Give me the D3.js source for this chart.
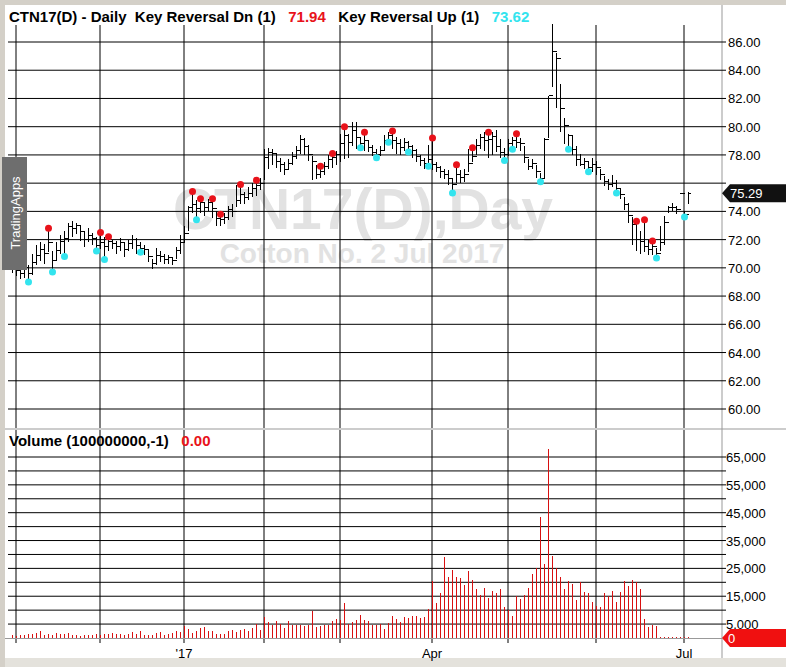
<!DOCTYPE html>
<html><head><meta charset="utf-8">
<script src="https://cdn.jsdelivr.net/npm/d3@7"></script>
<style>body{margin:0;background:#fff}svg{display:block;font-family:Arial,"Liberation Sans",sans-serif}text{white-space:pre}</style>
</head><body><svg id="c" width="786" height="667"></svg>
<script>
// daily bars, Oct 31 2016 .. Jul 5 2017 (one per trading day)
const hi = [70.5,70.3,70.1,70.4,70.2,71.0,71.6,71.8,71.7,72.8,71.2,71.8,72.3,72.6,73.2,73.3,73.2,73.0,72.6,72.8,
  72.5,72.2,72.5,72.2,72.2,72.0,71.9,72.1,71.8,72.0,72.3,72.1,71.8,71.6,71.3,70.6,71.4,71.2,71.0,70.9,
  70.8,71.5,72.3,73.0,74.4,75.4,74.8,74.9,74.7,74.9,74.9,74.0,73.8,73.9,74.4,74.5,75.9,75.9,75.4,75.7,
  76.0,76.2,76.4,78.4,78.5,78.4,78.1,77.8,77.5,77.7,78.2,78.6,79.4,79.2,78.7,77.9,77.3,77.2,77.5,78.0,
  78.1,78.3,79.5,80.0,79.5,80.3,80.3,79.3,79.6,79.0,78.7,78.4,78.6,79.4,79.6,79.7,79.3,79.1,79.2,79.0,
  78.7,78.4,78.0,77.8,78.7,79.2,77.5,77.2,77.0,76.9,76.4,77.3,76.9,77.0,78.4,78.5,79.1,79.5,79.6,79.6,
  79.6,79.8,79.1,78.5,79.1,79.3,79.5,79.2,78.6,77.7,77.7,77.3,76.7,79.2,82.2,87.3,85.2,83.0,80.6,79.5,
  79.4,78.6,78.1,77.8,77.5,77.8,77.6,77.0,76.5,76.3,76.6,76.2,75.6,75.0,74.6,73.6,73.3,72.6,73.4,72.0,
  71.9,71.4,73.0,73.7,74.4,74.6,74.4,75.3,74.0,75.4];
const lo = [69.6,69.4,69.2,69.3,69.0,69.5,70.2,70.5,70.3,71.1,69.7,70.5,71.0,70.8,71.8,72.2,72.4,71.9,71.5,71.8,
  71.6,71.2,71.3,70.6,71.2,71.3,71.0,71.2,70.8,71.2,71.3,71.0,71.1,70.9,70.4,69.9,70.2,70.4,70.3,70.3,
  70.2,70.6,71.0,71.8,72.6,73.9,73.4,73.9,73.7,74.0,73.5,73.0,73.0,73.1,73.4,73.6,74.3,74.5,74.5,74.8,
  75.0,75.1,75.5,76.2,77.0,77.3,77.1,76.8,76.6,77.0,77.3,77.7,78.1,78.0,77.6,76.2,76.3,76.4,76.6,77.0,
  77.1,77.3,77.5,77.7,77.8,78.6,78.4,78.5,78.3,78.2,77.9,77.8,77.9,78.3,78.9,78.4,78.1,78.0,78.3,78.2,
  77.8,77.5,77.2,77.0,77.2,76.9,76.8,76.4,76.3,75.9,75.3,76.0,76.0,76.1,76.8,77.5,78.0,78.4,78.3,77.8,
  78.0,78.2,77.8,77.6,77.9,78.4,78.5,78.3,77.4,76.9,77.0,76.4,76.1,76.3,79.2,82.8,81.3,79.6,78.8,78.4,
  78.0,77.2,77.2,77.0,76.8,76.8,76.6,76.2,75.8,75.5,75.7,75.3,74.9,74.1,73.2,71.6,71.2,71.0,71.1,70.9,
  70.9,70.7,71.2,71.6,73.9,74.0,73.8,75.2,73.6,74.5];
const cl = [70.0,69.8,69.6,70.0,69.6,70.4,70.9,71.3,71.0,71.8,70.5,71.2,71.9,72.1,72.9,72.8,73.0,72.6,72.0,72.3,
  72.1,71.6,71.8,71.5,71.9,71.7,71.5,71.8,71.3,71.7,72.0,71.6,71.4,71.3,70.8,70.3,70.9,70.8,70.6,70.7,
  70.5,71.2,71.8,72.4,74.3,74.5,74.2,74.6,74.3,74.6,74.2,73.5,73.4,73.6,74.1,74.0,74.8,75.2,75.0,75.3,
  75.6,75.8,76.0,77.8,78.2,78.1,77.5,77.3,77.0,77.4,77.9,78.3,79.1,78.6,78.0,77.5,76.6,76.8,77.2,77.7,
  77.8,78.0,78.8,79.4,78.9,79.7,79.2,78.8,79.0,78.5,78.2,78.0,78.3,79.0,79.4,79.0,78.8,78.5,78.9,78.6,
  78.3,77.9,77.6,77.4,77.7,77.3,77.1,76.8,76.6,76.3,75.9,76.6,76.4,76.6,77.4,77.9,78.7,79.2,79.0,79.1,
  79.3,78.6,78.2,78.0,78.8,79.0,78.9,78.8,77.8,77.2,77.4,76.8,76.3,79.1,82.2,85.3,84.8,81.3,80.1,79.4,
  78.4,77.7,77.3,77.5,77.1,77.3,77.1,76.6,76.1,75.9,76.0,75.6,75.2,74.5,73.7,73.1,72.0,71.9,71.5,71.3,
  71.5,71.0,71.8,73.2,74.3,74.3,74.1,75.3,73.8,75.3];
// volume, thousands of contracts
const vol = [1.0,0.8,1.2,1.0,1.5,1.3,1.8,2.4,1.0,1.6,1.2,1.9,1.5,1.4,1.9,0.9,1.0,0.8,1.1,1.0,
  0.9,1.5,1.1,1.3,1.6,1.8,1.4,1.5,1.1,1.6,2.3,1.4,2.6,1.1,1.0,1.2,1.8,2.0,0.9,1.3,
  1.7,2.5,2.0,4.3,3.2,1.8,2.6,3.5,3.8,2.6,2.5,1.5,1.3,1.6,2.4,3.0,2.1,2.8,3.2,2.5,
  3.6,5.2,3.0,7.4,5.9,4.8,6.0,5.0,3.6,6.2,4.7,4.8,4.5,4.3,4.6,9.6,4.0,4.3,4.8,4.6,
  6.2,6.8,6.5,12.5,5.0,5.8,6.4,8.3,6.5,6.2,4.6,4.8,5.0,3.2,5.4,7.8,6.9,5.8,7.6,7.2,
  8.0,7.8,7.3,7.6,10.5,20.6,12.5,16.0,29.0,22.0,24.5,22.0,21.5,19.0,24.0,21.0,17.5,15.5,18.0,14.5,
  17.0,16.0,17.5,11.0,10.0,8.0,15.0,14.0,15.5,18.0,23.0,25.0,43.5,26.5,68.0,29.5,25.0,22.0,17.5,20.5,
  19.5,13.5,20.0,16.5,16.0,13.0,11.5,11.0,16.0,15.0,17.0,13.0,16.5,20.5,18.5,21.0,20.0,17.5,7.0,4.0,
  4.5,4.3,0.4,0.4,0.4,0.4,0.4,0.4,0.4,0.4];
const revDn = [9,22,24,45,47,50,52,57,61,77,80,83,88,95,105,111,115,119,126,156,158,160];
const revUp = [4,10,13,21,23,32,46,87,91,94,99,104,110,123,125,132,139,144,151,161,168];
const priceTicks = [60,62,64,66,68,70,72,74,76,78,80,82,84,86];
const volTicks = [5,15,25,35,45,55,65];
const monthStarts = ["2016-11-01","2016-12-01","2017-01-03","2017-02-01","2017-03-01","2017-04-03","2017-05-01","2017-06-01","2017-07-03"];
const monthLabels = {"2017-01-03":"'17","2017-04-03":"Apr","2017-07-03":"Jul"};
const holidays = ["2016-11-24","2016-12-26","2017-01-02","2017-01-16","2017-02-20","2017-04-14","2017-05-29","2017-07-04"];

const fmt = d3.timeFormat("%Y-%m-%d");
const days = d3.timeDay.range(new Date(2016,9,31), new Date(2017,6,6))
  .filter(d => d.getDay() % 6 !== 0 && !holidays.includes(fmt(d)));

const svg = d3.select("#c");
const L = 8, R = 722;
const x = d3.scaleLinear().domain([0, 169]).range([12, 688]);
const yP = d3.scaleLinear().domain([60, 86]).range([409, 42]);
const yV = d3.scaleLinear().domain([0, 65]).range([638, 457]);
const monthIdx = monthStarts.map(s => days.findIndex(d => fmt(d) === s));

// frame
svg.append("rect").attr("width",786).attr("height",667).attr("fill","#d4d0c8");
svg.append("rect").attr("x",5).attr("y",5).attr("width",781).attr("height",653).attr("fill","#fff");
svg.append("line").attr("x1",R).attr("x2",R).attr("y1",5).attr("y2",658).attr("stroke","#999");
svg.append("line").attr("x1",5).attr("x2",786).attr("y1",429).attr("y2",429).attr("stroke","#999");
svg.append("rect").attr("x",5).attr("y",658).attr("width",781).attr("height",9).attr("fill","#e4e2dc");

// watermark
svg.append("text").attr("x",363).attr("y",229).attr("text-anchor","middle").attr("font-size",57)
  .attr("font-weight","bold").attr("fill","#e2e2e2").text("CTN17(D),Day");
svg.append("text").attr("x",362).attr("y",263).attr("text-anchor","middle").attr("font-size",28)
  .attr("font-weight","bold").attr("fill","#e2e2e2").text("Cotton No. 2 Jul 2017");

// price grid
const gP = svg.append("g");
gP.selectAll("line.h").data(priceTicks).join("line")
  .attr("x1",L).attr("x2",R+4).attr("y1",d=>yP(d)).attr("y2",d=>yP(d)).attr("stroke","#000");
gP.selectAll("line.v").data(monthIdx).join("line")
  .attr("x1",d=>x(d)).attr("x2",d=>x(d)).attr("y1",25).attr("y2",428).attr("stroke","#000");
gP.selectAll("text").data(priceTicks.filter(d => d !== 76)).join("text")
  .attr("x",728).attr("y",d=>yP(d)+5).attr("font-size",13).text(d=>d.toFixed(2));

// ohlc bars
const gB = svg.append("g").attr("stroke","#000").attr("shape-rendering","crispEdges");
cl.forEach((c,i)=>{
  const xi = Math.round(x(i))+0.5;
  gB.append("line").attr("x1",xi).attr("x2",xi).attr("y1",yP(hi[i])).attr("y2",yP(lo[i]));
  if (i>0) gB.append("line").attr("x1",xi-2).attr("x2",xi).attr("y1",yP(cl[i-1])).attr("y2",yP(cl[i-1]));
  gB.append("line").attr("x1",xi).attr("x2",xi+2).attr("y1",yP(c)).attr("y2",yP(c));
});
svg.selectAll("circle.dn").data(revDn).join("circle")
  .attr("cx",d=>x(d)+0.5).attr("cy",d=>yP(hi[d])).attr("r",3.5).attr("fill","#e8121a");
svg.selectAll("circle.up").data(revUp).join("circle")
  .attr("cx",d=>x(d)+0.5).attr("cy",d=>yP(lo[d])).attr("r",3.5).attr("fill","#33e4ee");

// last price marker (covers the 76.00 label as in the original)
const lp = yP(75.29);
svg.append("path").attr("d",`M722,${lp} L730,${lp-9} H786 V${lp+9} H730 Z`).attr("fill","#111");
svg.append("text").attr("x",730).attr("y",lp+5).attr("font-size",13).attr("fill","#fff").text("75.29");

// title
const t = svg.append("text").attr("x",9).attr("y",22).attr("font-size",15).attr("font-weight","bold");
t.append("tspan").text("CTN17(D) - Daily  Key Reversal Dn (1)   ");
t.append("tspan").attr("fill","#e8121a").text("71.94");
t.append("tspan").text("   Key Reversal Up (1)   ");
t.append("tspan").attr("fill","#33e4ee").text("73.62");

// TradingApps tab
svg.append("rect").attr("x",2).attr("y",157).attr("width",25).attr("height",113).attr("fill","#6e6e6e");
svg.append("text").attr("transform","translate(20,213) rotate(-90)").attr("text-anchor","middle")
  .attr("font-size",13).attr("fill","#fff").text("TradingApps");

// volume panel
const gV = svg.append("g");
gV.selectAll("line.h").data(d3.range(5,70,5)).join("line")
  .attr("x1",L).attr("x2",R+4).attr("y1",d=>yV(d)).attr("y2",d=>yV(d)).attr("stroke","#000");
gV.selectAll("line.v").data(monthIdx).join("line")
  .attr("x1",d=>x(d)).attr("x2",d=>x(d)).attr("y1",430).attr("y2",643).attr("stroke","#000");
gV.selectAll("text").data(volTicks).join("text")
  .attr("x",726).attr("y",d=>yV(d)+5).attr("font-size",13).text(d=>d3.format(",")(d*1000));
svg.append("g").attr("shape-rendering","crispEdges").selectAll("line").data(vol).join("line")
  .attr("x1",(d,i)=>Math.round(x(i))+0.5).attr("x2",(d,i)=>Math.round(x(i))+0.5)
  .attr("y1",yV(0)).attr("y2",d=>yV(d)).attr("stroke","#d81010");
svg.append("rect").attr("x",5).attr("y",yV(0)).attr("width",717).attr("height",1).attr("fill","#999");
svg.append("path").attr("d",`M722,${yV(0)} L730,${yV(0)-9} H786 V${yV(0)+9} H730 Z`).attr("fill","#f01010");
svg.append("text").attr("x",728).attr("y",yV(0)+5).attr("font-size",13).attr("fill","#fff").text("0");
const tv = svg.append("text").attr("x",9).attr("y",446).attr("font-size",15).attr("font-weight","bold");
tv.append("tspan").text("Volume (100000000,-1)   ");
tv.append("tspan").attr("fill","#e8121a").text("0.00");

// x labels
svg.selectAll("text.m").data(monthIdx.filter(i=>monthLabels[fmt(days[i])])).join("text")
  .attr("x",d=>x(d)).attr("y",658).attr("text-anchor","middle").attr("font-size",13)
  .text(d=>monthLabels[fmt(days[d])]);
</script></body></html>
